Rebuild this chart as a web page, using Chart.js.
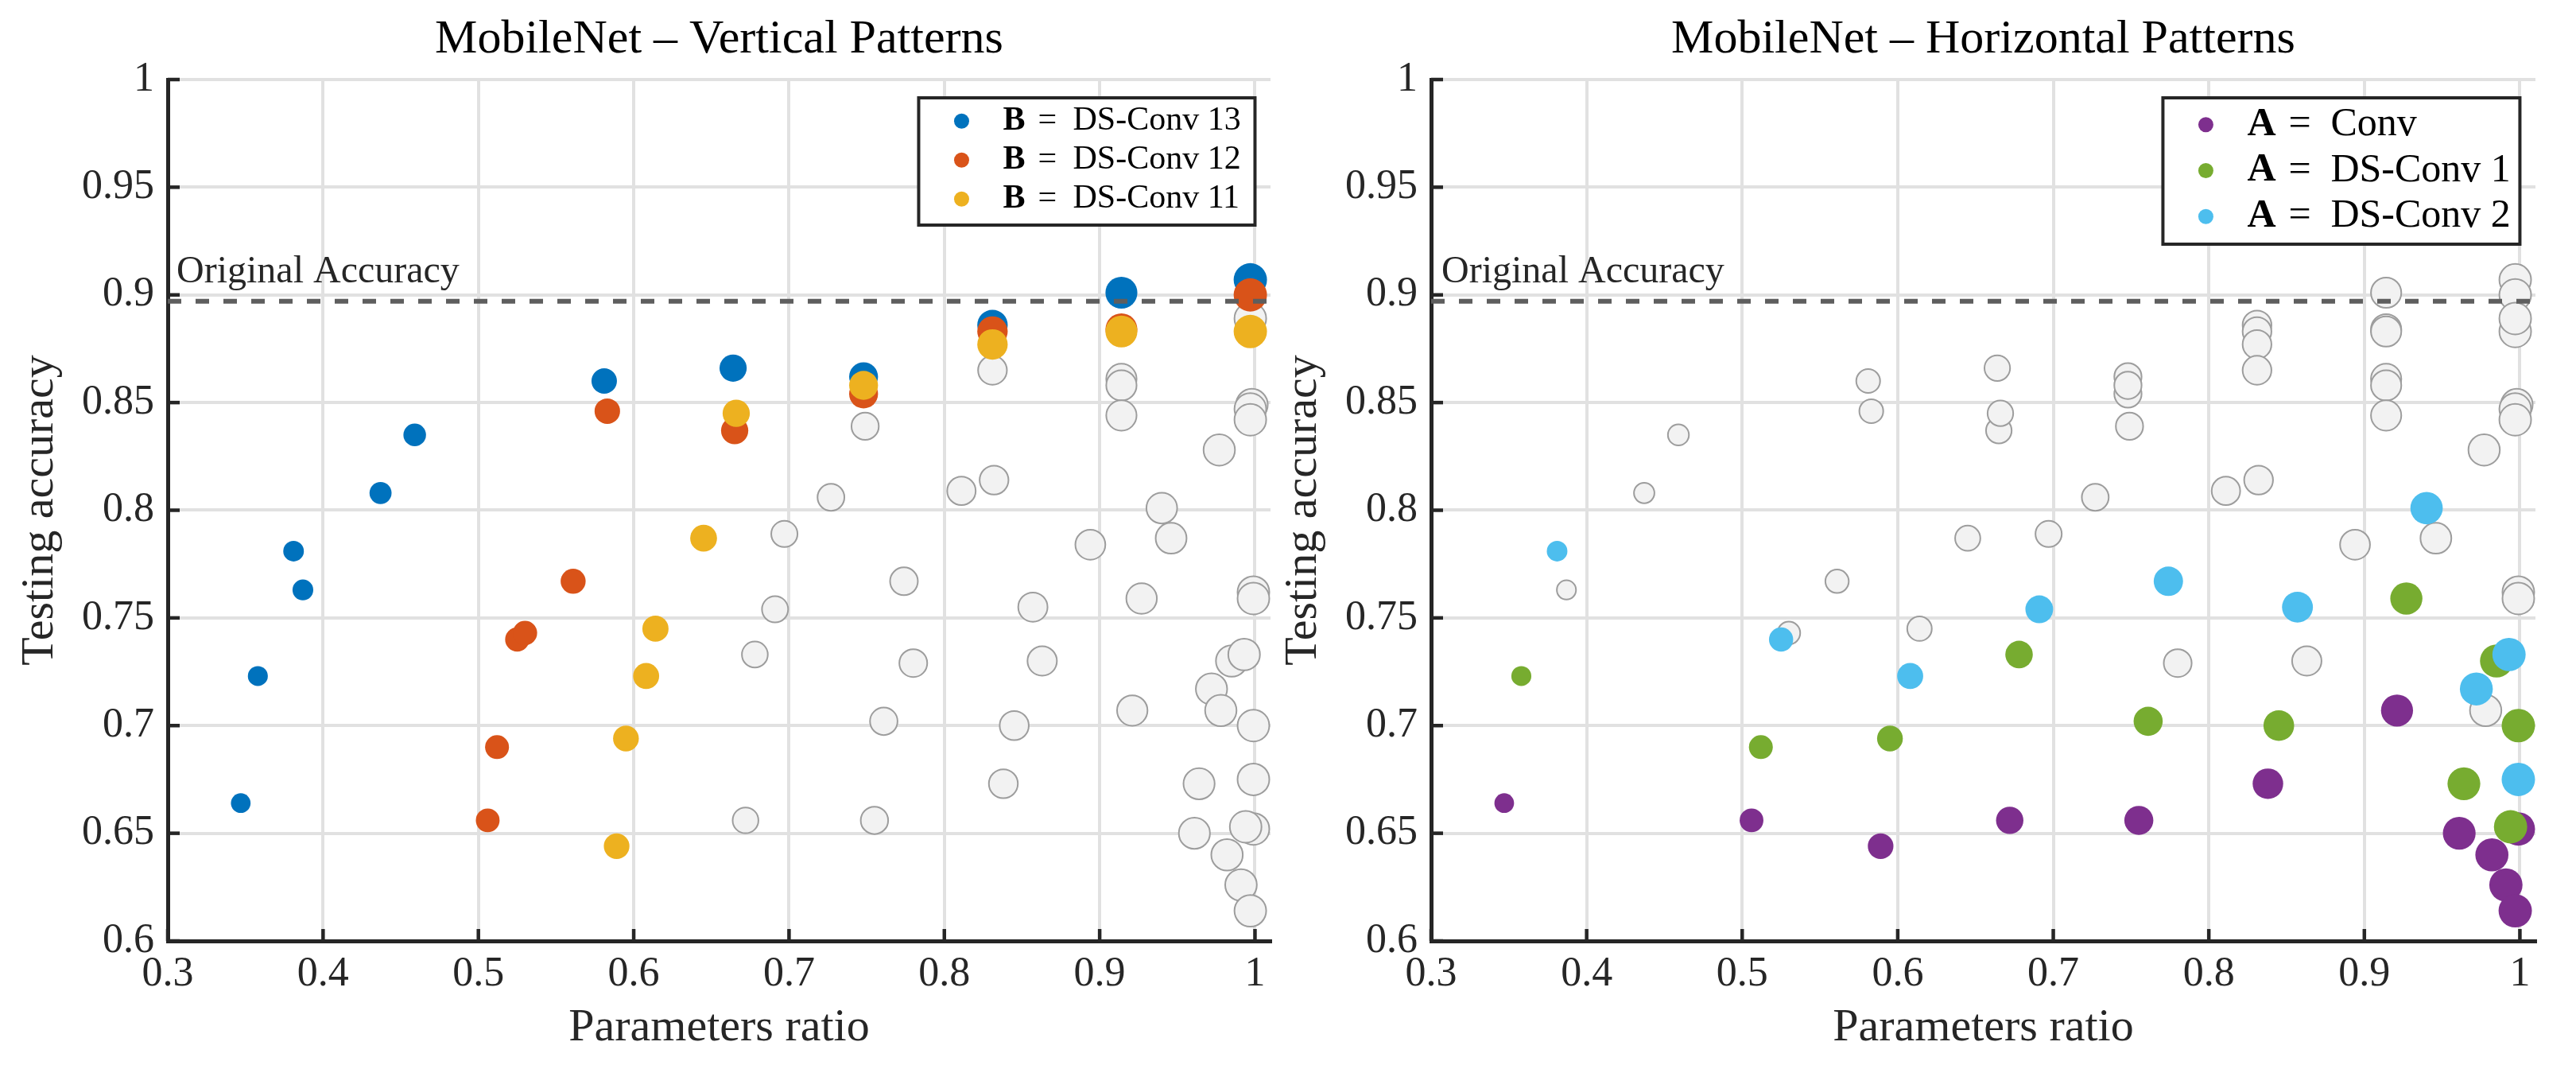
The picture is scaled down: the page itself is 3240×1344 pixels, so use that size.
<!DOCTYPE html>
<html>
<head>
<meta charset="utf-8">
<script src="https://cdn.jsdelivr.net/npm/chart.js@4.4.1/dist/chart.umd.min.js"></script>
<style>
html,body{margin:0;padding:0;background:#fff;overflow:hidden;}
#wrap{position:relative;width:3240px;height:1344px;background:#fff;}
canvas{position:absolute;top:0;}
</style>
</head>
<body>
<div id="wrap">
<canvas id="c1" width="1620" height="1344" style="left:0px"></canvas>
<canvas id="c2" width="1651" height="1344" style="left:1589px"></canvas>
</div>
<script>
// ---------------- data ----------------
const xTicks = [0.3, 0.4, 0.5, 0.6, 0.7, 0.8, 0.9, 1];
const yTicks = [0.6, 0.65, 0.7, 0.75, 0.8, 0.85, 0.9, 0.95, 1];
const xLimits = [0.3, 1.01];
const yLimits = [0.6, 1];
const originalAccuracy = 0.897;

// vertical patterns (end layer B)
const bDSConv13 = [[0.347,0.664],[0.358,0.723],[0.381,0.781],[0.387,0.763],[0.437,0.808],[0.459,0.835],[0.581,0.860],[0.664,0.866],[0.748,0.862],[0.831,0.886],[0.914,0.901],[0.997,0.907]];
const bDSConv12 = [[0.506,0.656],[0.512,0.690],[0.525,0.740],[0.530,0.743],[0.561,0.767],[0.583,0.846],[0.665,0.837],[0.748,0.854],[0.831,0.883],[0.914,0.884],[0.997,0.900]];
const bDSConv11 = [[0.589,0.644],[0.595,0.694],[0.608,0.723],[0.614,0.745],[0.645,0.787],[0.666,0.845],[0.748,0.858],[0.831,0.877],[0.914,0.883],[0.997,0.883]];
// horizontal patterns (start layer A)
const aConv    = [[0.347,0.664],[0.506,0.656],[0.589,0.644],[0.672,0.656],[0.755,0.656],[0.838,0.673],[0.921,0.707],[0.961,0.650],[0.982,0.640],[0.991,0.626],[0.997,0.614],[0.999,0.652]];
const aDSConv1 = [[0.358,0.723],[0.512,0.690],[0.595,0.694],[0.678,0.733],[0.761,0.702],[0.845,0.700],[0.927,0.759],[0.964,0.673],[0.985,0.730],[0.994,0.653],[0.999,0.700]];
const aDSConv2 = [[0.381,0.781],[0.525,0.740],[0.608,0.723],[0.691,0.754],[0.774,0.767],[0.857,0.755],[0.940,0.801],[0.972,0.717],[0.993,0.733],[0.999,0.675]];
// all other pruning configurations
const otherConfigs = [[0.831,0.865],[0.832,0.814],[0.811,0.809],[0.727,0.806],[0.749,0.839],[0.914,0.861],[0.914,0.858],[0.914,0.844],[0.997,0.889],[0.998,0.849],[0.997,0.847],[0.997,0.842],[0.977,0.828],[0.697,0.789],[0.894,0.784],[0.946,0.787],[0.999,0.762],[0.999,0.759],[0.780,0.729],[0.863,0.730],[0.978,0.707]];

// ---------------- helpers ----------------
const FONT = '"Liberation Serif", "DejaVu Serif", serif';
const toPts = arr => arr.map(p => ({x: p[0], y: p[1]}));
const key = p => p[0] + ',' + p[1];
function grayOf(highlighted) {
  const hi = new Set(highlighted.flat().map(key));
  const all = [...bDSConv13, ...bDSConv12, ...bDSConv11, ...aConv, ...aDSConv1, ...aDSConv2, ...otherConfigs];
  const seen = new Set();
  const out = [];
  all.forEach(p => { const k = key(p); if (!hi.has(k) && !seen.has(k)) { seen.add(k); out.push(p); } });
  return out;
}
const radiusFor = (c, sub) => (c.raw ? 21 * Math.sqrt(c.raw.x) - sub : 10);

const decorPlugin = {
  id: 'decor',
  afterDatasetsDraw(chart, args, opts) {
    const {ctx, chartArea: ca, scales: {x, y}} = chart;
    ctx.save();
    ctx.font = '48px ' + FONT;
    ctx.fillStyle = '#262626';
    ctx.textAlign = 'left';
    ctx.textBaseline = 'alphabetic';
    ctx.fillText('Original Accuracy', ca.left + opts.refDx, y.getPixelForValue(originalAccuracy) - 24);
    ctx.strokeStyle = '#262626';
    ctx.lineWidth = 4.5;
    yTicks.forEach(v => { const py = y.getPixelForValue(v); ctx.beginPath(); ctx.moveTo(ca.left, py); ctx.lineTo(ca.left + 15, py); ctx.stroke(); });
    xTicks.forEach(v => { const px = x.getPixelForValue(v); ctx.beginPath(); ctx.moveTo(px, ca.bottom); ctx.lineTo(px, ca.bottom - 15); ctx.stroke(); });
    ctx.restore();
  },
  afterDraw(chart, args, opts) {
    const {ctx, chartArea: ca, scales: {x}} = chart;
    const lg = opts.legend;
    const bx = x.getPixelForValue(1) - lg.width;
    const by = ca.top + lg.top;
    ctx.save();
    ctx.fillStyle = '#fff';
    ctx.fillRect(bx, by, lg.width, lg.height);
    ctx.lineWidth = 4;
    ctx.strokeStyle = '#262626';
    ctx.strokeRect(bx, by, lg.width, lg.height);
    lg.items.forEach((it, i) => {
      const cy = by + lg.row0 + i * lg.rowGap;
      ctx.beginPath();
      ctx.arc(bx + lg.markerDx, cy, 9.5, 0, Math.PI * 2);
      ctx.fillStyle = it.color;
      ctx.fill();
      ctx.fillStyle = '#000';
      ctx.textAlign = 'left';
      ctx.textBaseline = 'middle';
      ctx.font = 'bold ' + lg.font + 'px ' + FONT;
      ctx.fillText(it.letter, bx + lg.textDx, cy);
      ctx.font = lg.font + 'px ' + FONT;
      ctx.fillText('=', bx + lg.textDx + lg.eqDx, cy);
      ctx.fillText(it.rest, bx + lg.textDx + lg.restDx, cy);
    });
    ctx.restore();
  }
};

function makeChart(canvasId, cfg) {
  const axisCommon = {
    type: 'linear',
    grid: {color: '#e1e1e1', lineWidth: 4, drawTicks: false},
    border: {display: true, color: '#262626', width: 5}
  };
  const datasets = [
    {type: 'line', data: [{x: xLimits[0], y: originalAccuracy}, {x: xLimits[1], y: originalAccuracy}],
     borderColor: '#5e5e5e', borderWidth: 6, borderDash: [17, 18], pointRadius: 0, fill: false, order: 0}
  ];
  cfg.series.slice().reverse().forEach((s, i) => {
    datasets.push({type: 'scatter', label: s.letter + ' = ' + s.rest, data: toPts(s.data),
      backgroundColor: s.color, pointBackgroundColor: s.color, pointBorderWidth: 0, borderWidth: 0,
      pointRadius: c => radiusFor(c, 0), pointHoverRadius: c => radiusFor(c, 0), order: i + 1});
  });
  datasets.push({type: 'scatter', label: 'others', data: toPts(grayOf(cfg.series.map(s => s.data))),
    backgroundColor: '#f2f2f2', pointBackgroundColor: '#f2f2f2', pointBorderColor: '#9d9d9d', borderColor: '#9d9d9d',
    pointBorderWidth: 2, pointRadius: c => radiusFor(c, 1), pointHoverRadius: c => radiusFor(c, 1), order: 10});

  return new Chart(document.getElementById(canvasId), {
    type: 'scatter',
    data: {datasets},
    plugins: [decorPlugin],
    options: {
      responsive: false,
      devicePixelRatio: 1,
      animation: false,
      events: [],
      layout: {padding: {left: 0, right: cfg.padRight, top: 0, bottom: 0}},
      scales: {
        x: Object.assign({}, axisCommon, {
          min: xLimits[0], max: xLimits[1],
          afterBuildTicks: s => { s.ticks = xTicks.map(v => ({value: v})); },
          afterFit: s => { s.height = 161; },
          ticks: {padding: 11, color: '#262626', font: {family: FONT, size: 52}, maxRotation: 0, autoSkip: false, callback: v => String(v)},
          title: {display: true, text: 'Parameters ratio', color: '#262626', font: {family: FONT, size: 58}, padding: {top: 0, bottom: 16}}
        }),
        y: Object.assign({}, axisCommon, {
          min: yLimits[0], max: yLimits[1],
          afterBuildTicks: s => { s.ticks = yTicks.map(v => ({value: v})); },
          afterFit: s => { s.width = 211; },
          ticks: {padding: 17, color: '#262626', font: {family: FONT, size: 52}, autoSkip: false, callback: v => String(v)},
          title: {display: true, text: 'Testing accuracy', color: '#262626', font: {family: FONT, size: 58}, padding: {top: 16, bottom: 0}}
        })
      },
      plugins: {
        legend: {display: false},
        tooltip: {enabled: false},
        title: {display: true, fullSize: false, text: cfg.title, color: '#000', font: {family: FONT, size: 60, weight: 'normal'}, padding: {top: 14, bottom: 14}},
        decor: {refDx: cfg.refDx, legend: Object.assign({items: cfg.series}, cfg.legend)}
      }
    }
  });
}

makeChart('c1', {
  title: 'MobileNet \u2013 Vertical Patterns',
  padRight: 21,
  refDx: 11,
  series: [
    {letter: 'B', rest: 'DS-Conv 13', color: '#0072BD', data: bDSConv13},
    {letter: 'B', rest: 'DS-Conv 12', color: '#D95319', data: bDSConv12},
    {letter: 'B', rest: 'DS-Conv 11', color: '#EDB120', data: bDSConv11}
  ],
  legend: {width: 423, top: 23, height: 160, row0: 29.3, rowGap: 49, markerDx: 54, textDx: 106, eqDx: 44, restDx: 88, font: 42}
});

makeChart('c2', {
  title: 'MobileNet \u2013 Horizontal Patterns',
  padRight: 51,
  refDx: 13,
  series: [
    {letter: 'A', rest: 'Conv', color: '#7E2F8E', data: aConv},
    {letter: 'A', rest: 'DS-Conv 1', color: '#77AC30', data: aDSConv1},
    {letter: 'A', rest: 'DS-Conv 2', color: '#4DBEEE', data: aDSConv2}
  ],
  legend: {width: 449, top: 23, height: 184, row0: 33.7, rowGap: 57.8, markerDx: 54, textDx: 106, eqDx: 52, restDx: 105, font: 50}
});
</script>
</body>
</html>
